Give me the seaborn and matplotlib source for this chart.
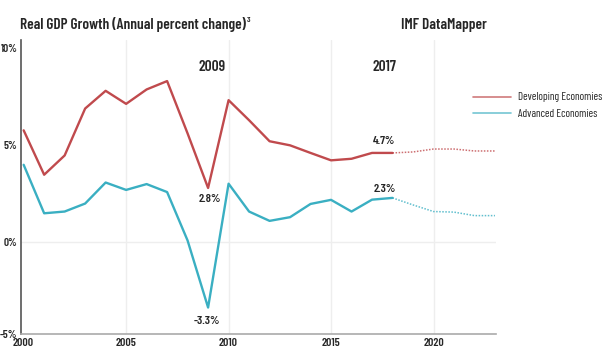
import matplotlib
matplotlib.use("Agg")
import matplotlib.pyplot as plt
import seaborn as sns
import pandas as pd
from matplotlib.lines import Line2D
from matplotlib import font_manager as fm

years = list(range(2000, 2024))
developing = [5.76, 3.48, 4.47, 6.88, 7.79, 7.12, 7.86, 8.29, 5.6, 2.8,
              7.31, 6.28, 5.2, 4.99, 4.6, 4.22, 4.3, 4.6, 4.6,
              4.65, 4.8, 4.8, 4.7, 4.7]
advanced = [3.99, 1.5, 1.59, 2.0, 3.08, 2.7, 3.0, 2.59, 0.1, -3.34,
            3.02, 1.59, 1.11, 1.3, 1.98, 2.19, 1.59, 2.2, 2.29,
            1.93, 1.59, 1.56, 1.38, 1.38]
last_actual = 2018
series_names = ["Developing Economies", "Advanced Economies"]
colors = ["#c04a4d", "#3aafc2"]
legend_colors = ["#d07a7c", "#74c6d3"]

x_ticks = [2000, 2005, 2010, 2015, 2020]
y_ticks = [10, 5, 0]
y_labels = ["10%", "5%", "0%"]

sns.set_theme(style="white")

# choose a condensed family that has a bold face
candidates = ["Oswald", "Barlow Condensed", "Roboto Condensed", "Fjalla One",
              "Saira ExtraCondensed", "Archivo Narrow", "Sofia Sans Extra Condensed"]
avail = {}
for f in fm.fontManager.ttflist:
    w = f.weight if isinstance(f.weight, int) else 400
    avail.setdefault(f.name, set()).add(w)
primary = None
for c in candidates:
    if c in avail and max(avail[c]) >= 600:
        primary = c
        break
if primary is None:
    primary = "DejaVu Sans"
WEIGHT = 600 if (primary in avail and 600 in avail[primary]) else "bold"
plt.rcParams["font.family"] = [primary, "DejaVu Sans"]

rows = []
for name, vals in zip(series_names, [developing, advanced]):
    for y, v in zip(years, vals):
        rows.append({"year": y, "value": v, "series": name})
df = pd.DataFrame(rows)

fig = plt.figure(figsize=(6.07, 3.52), dpi=100)
ax = fig.add_axes([21/607, 1-334/352, (496-21)/607, (334-40)/352])

for name, c in zip(series_names, colors):
    d = df[df.series == name]
    sns.lineplot(data=d[d.year <= last_actual], x="year", y="value", color=c,
                 lw=1.7, ax=ax, legend=False)
    sns.lineplot(data=d[d.year >= last_actual], x="year", y="value", color=c,
                 lw=1.1, ls=(0, (1, 1)), alpha=0.8, ax=ax, legend=False)

ax.set_xlim(1999.87, 2023.05)
ax.set_ylim(-4.7, 10.4)
for xt in x_ticks[1:]:
    ax.axvline(xt, color="#eeeeee", lw=1, zorder=0)
ax.axhline(0, color="#eeeeee", lw=1, zorder=0)

ax.set_xticks(x_ticks)
ax.set_xticklabels([str(t) for t in x_ticks], fontsize=8.5, fontweight=WEIGHT)
ax.set_yticks(y_ticks + [-4.7])
ax.set_yticklabels(y_labels + ["-5%"], fontsize=8.2, fontweight=WEIGHT)
ax.tick_params(axis="x", length=0, pad=3)
ax.tick_params(axis="y", length=0, pad=2.5)
ax.set_xlabel("")
ax.set_ylabel("")
for s in ["top", "right"]:
    ax.spines[s].set_visible(False)
ax.spines["left"].set_color("#555555")
ax.spines["left"].set_linewidth(1.2)
ax.spines["bottom"].set_color("#aaaaaa")
ax.spines["bottom"].set_linewidth(1.2)

ax.text(2009.2, 9.0, "2009", ha="center", va="center", fontsize=11, fontweight=WEIGHT)
ax.text(2017.6, 9.0, "2017", ha="center", va="center", fontsize=11, fontweight=WEIGHT)

ax.text(2009.1, 2.22, "2.8%", ha="center", va="center", fontsize=8.8, fontweight=WEIGHT)
ax.text(2008.95, -4.05, "-3.3%", ha="center", va="center", fontsize=8.8, fontweight=WEIGHT)
ax.text(2017.6, 5.2, "4.7%", ha="center", va="center", fontsize=8.8, fontweight=WEIGHT)
ax.text(2017.6, 2.75, "2.3%", ha="center", va="center", fontsize=8.8, fontweight=WEIGHT)

title = fig.text(20/607, 1-24/352, "Real GDP Growth (Annual percent change)", ha="left",
                 va="center", fontsize=11, fontweight=WEIGHT)
fig.canvas.draw()
bb = title.get_window_extent()
fig.text((bb.x1 + 1)/607, 1-20/352, "3", ha="left", va="center",
         fontsize=6, fontweight=WEIGHT)
fig.text(444/607, 1-25/352, "IMF DataMapper", ha="center", va="center",
         fontsize=11, fontweight=WEIGHT)

handles = [Line2D([0], [0], color=c, lw=1.2) for c in legend_colors]
fig.legend(handles, series_names, loc="upper left", bbox_to_anchor=(469/607, 1-88.5/352),
           frameon=False, fontsize=8.0, handlelength=3.42, handletextpad=0.63,
           labelspacing=0.62, borderaxespad=0, borderpad=0.35)

fig.savefig("out.png", dpi=100)
